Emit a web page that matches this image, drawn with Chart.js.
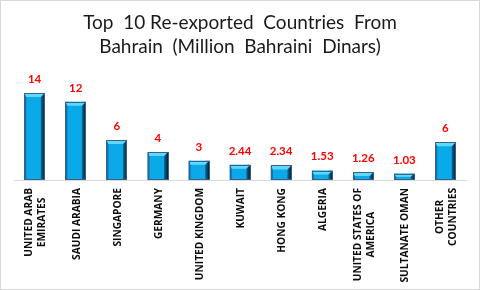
<!DOCTYPE html>
<html>
<head>
<meta charset="utf-8">
<script src="https://cdn.jsdelivr.net/npm/chart.js@4/dist/chart.umd.min.js"></script>
<style>
  html, body { margin: 0; padding: 0; background: #ffffff; }
  #wrap { width: 480px; height: 290px; position: relative; }
</style>
</head>
<body>
<div id="wrap"><canvas id="c" width="480" height="290"></canvas></div>
<script>
// ---- data ----
const categories = [
  ['UNITED ARAB', 'EMIRATES'],
  ['SAUDI ARABIA'],
  ['SINGAPORE'],
  ['GERMANY'],
  ['UNITED KINGDOM'],
  ['KUWAIT'],
  ['HONG KONG'],
  ['ALGERIA'],
  ['UNITED STATES OF', 'AMERICA'],
  ['SULTANATE OMAN'],
  ['OTHER', 'COUNTRIES']
];
const values = [14, 12.6, 6.45, 4.5, 3.1, 2.44, 2.34, 1.53, 1.26, 1.03, 6.1];
const valueLabels = ['14', '12', '6', '4', '3', '2.44', '2.34', '1.53', '1.26', '1.03', '6'];
const titleLines = ['Top  10 Re-exported  Countries  From', 'Bahrain  (Million  Bahraini  Dinars)'];

// ---- plugins ----
const borderPlugin = {
  id: 'outerBorder',
  afterDraw(chart) {
    const ctx = chart.ctx;
    ctx.save();
    ctx.strokeStyle = '#d9d9d9';
    ctx.lineWidth = 1;
    ctx.strokeRect(0.5, 0.5, chart.width - 1, chart.height - 1);
    ctx.restore();
  }
};

const bevelPlugin = {
  id: 'bevel',
  afterDatasetsDraw(chart) {
    const ctx = chart.ctx;
    const meta = chart.getDatasetMeta(0);
    ctx.save();
    meta.data.forEach((bar) => {
      const w = bar.width;
      const left = bar.x - w / 2;
      const right = bar.x + w / 2;
      const top = bar.y;
      const bottom = bar.base;
      const h = bottom - top;
      const rg = ctx.createLinearGradient(right - 4, 0, right, 0);
      rg.addColorStop(0, 'rgba(10,60,100,0.6)');
      rg.addColorStop(1, 'rgba(5,25,45,1)');
      ctx.fillStyle = rg;
      ctx.fillRect(right - 4, top, 4, h);
      ctx.fillStyle = 'rgba(20,90,160,0.75)';
      ctx.fillRect(left, top, 2, h);
      const bh = Math.min(4, h * 0.5);
      ctx.beginPath();
      ctx.moveTo(left, top);
      ctx.lineTo(right, top);
      ctx.lineTo(right - 4, top + bh);
      ctx.lineTo(left + 2, top + bh);
      ctx.closePath();
      ctx.fillStyle = '#5fd8ff';
      ctx.fill();
      ctx.strokeStyle = '#3d5f86';
      ctx.lineWidth = 1;
      ctx.strokeRect(Math.round(left) + 0.5, Math.round(top) + 0.5, Math.round(w) - 1, Math.round(h) - 1);
    });
    ctx.restore();
  },
  afterDraw(chart) {
    const ctx = chart.ctx;
    const meta = chart.getDatasetMeta(0);
    ctx.save();
    ctx.font = 'bold 11.5px Lato';
    ctx.fillStyle = '#ff0000';
    ctx.textAlign = 'center';
    ctx.textBaseline = 'bottom';
    meta.data.forEach((bar, i) => {
      ctx.fillText(valueLabels[i], bar.x, bar.y - 8);
    });
    ctx.restore();
    const xs = chart.scales.x;
    const axisY = chart.chartArea.bottom;
    ctx.save();
    ctx.font = 'bold 10.2px "Open Sans"';
    ctx.fillStyle = '#0d0d0d';
    ctx.textBaseline = 'middle';
    ctx.textAlign = 'center';
    categories.forEach((lines, i) => {
      const x = xs.getPixelForValue(i);
      const maxW = Math.max(...lines.map(l => ctx.measureText(l).width));
      const lh = 13;
      ctx.save();
      ctx.translate(x, axisY + 8);
      ctx.rotate(-Math.PI / 2);
      lines.forEach((l, k) => {
        const off = (k - (lines.length - 1) / 2) * lh;
        ctx.fillText(l, -maxW / 2, off + 1);
      });
      ctx.restore();
    });
    ctx.restore();
  }
};

new Chart(document.getElementById('c'), {
  type: 'bar',
  data: {
    labels: categories.map(c => c.join(' ')),
    datasets: [{
      data: values,
      backgroundColor: '#0aaae8',
      borderWidth: 0,
      barPercentage: 0.5,
      categoryPercentage: 1.0
    }]
  },
  options: {
    responsive: false,
    animation: false,
    events: [],
    layout: { padding: { left: 14, right: 14, top: 0, bottom: 102 } },
    plugins: {
      legend: { display: false },
      tooltip: { enabled: false },
      title: {
        display: true,
        text: titleLines,
        color: '#1a1a1a',
        font: { family: 'Lato', size: 19, weight: 'normal', lineHeight: 1.27 },
        padding: { top: 11, bottom: 9 }
      }
    },
    scales: {
      x: {
        grid: { display: false },
        border: { display: true, color: '#d9d9d9', width: 1 },
        ticks: { display: false }
      },
      y: {
        display: false,
        min: 0,
        max: 18
      }
    }
  },
  plugins: [bevelPlugin, borderPlugin]
});
</script>
</body>
</html>
